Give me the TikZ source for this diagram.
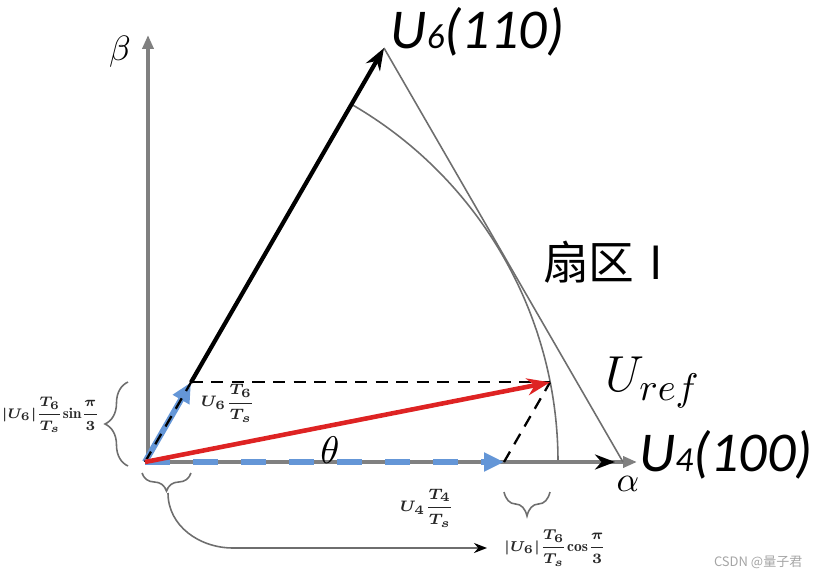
\documentclass[tikz,border=0pt]{standalone}
\usepackage{fontspec}
\usepackage{amsmath}
\newfontfamily\carlito{Carlito}
\newfontfamily\cjk{Noto Sans CJK SC}
\usetikzlibrary{positioning,calc,arrows.meta,decorations.pathreplacing}

\definecolor{axisgray}{RGB}{128,128,128}
\definecolor{linegray}{RGB}{110,110,110}
\definecolor{markgray}{RGB}{165,165,165}
\definecolor{compblue}{RGB}{100,150,215}
\definecolor{refred}{RGB}{222,35,35}

\newcommand*{\rHex}{4.78}
\newcommand*{\rIn}{4.13}
\newcommand*{\tSix}{0.92}
\newcommand*{\tFour}{3.59}
\newcommand*{\shrink}[2][0.72]{\scalebox{#1}{\boldmath#2}}

\tikzset{
  axis/.style={axisgray, line width=1.1pt, -{Triangle[length=1.4mm,width=1.1mm]}},
  thinline/.style={linegray, line width=0.45pt},
  blackvec/.style={black, line width=1.2pt, -{Stealth[length=2.2mm,width=1.6mm]}},
  bluevec/.style={compblue, line width=1.7pt, -{Triangle[length=2mm,width=1.8mm]}},
  redvec/.style={refred, line width=1.3pt, -{Stealth[length=2.3mm,width=1.7mm]}},
  dashline/.style={black, line width=0.65pt, dash pattern=on 1.2mm off 0.85mm},
  bracket/.style={linegray, line width=0.45pt, decorate, decoration={brace, amplitude=#1}},
  small/.style={font=\fontsize{6.5}{7}\selectfont, inner sep=1pt, text=black!85},
  big/.style={font=\carlito\itshape\fontsize{16}{16}\selectfont, inner sep=0pt}
}

\begin{document}
\begin{tikzpicture}[x=1cm,y=1cm]
  \useasboundingbox (-1.45,-1.15) rectangle (6.75,4.62);

  \coordinate (O) at (0,0);
  \foreach \ang/\nm in {0/U4,60/U6} {
    \coordinate (\nm) at (\ang:\rHex);
  }
  \coordinate (V6) at (60:\tSix);
  \coordinate (V4) at (\tFour,0);
  \coordinate (Uref) at ($(V6)+(V4)$);
  \coordinate (U4tip) at (4.70,0);
  \coordinate (ax) at (4.92,0);
  \coordinate (by) at (0.03,4.27);

  % axes
  \draw[axis] ([xshift=0.3mm]O) -- (by);
  \draw[axis] (O) -- (ax);

  % hexagon edge, inscribed circle
  \draw[thinline] (U6) -- (U4);
  \draw[thinline] (\rIn,0) arc[start angle=0, end angle=60, radius=\rIn];

  % basic vectors
  \draw[blackvec] (V6) -- (U6);
  \draw[axisgray, line width=1.1pt, -{Stealth[black,length=2mm,width=1.5mm]}] (V4) -- (U4tip);

  % components
  \draw[bluevec] (O) -- (V6);
  \draw[dashline] (O) -- (V6);
  \draw[bluevec, dash pattern=on 2.5mm off 2.3mm] (O) -- (V4);
  \draw[dashline] (V6) -- (Uref);
  \draw[dashline] (V4) -- (Uref);

  % reference vector
  \draw[redvec] (O) -- (Uref);

  % braces
  \draw[bracket=2.3mm] (-0.17,-0.04) -- (-0.17,0.80);
  \coordinate (bs) at (-0.40,0.38);
  \draw[bracket=1.8mm] ([yshift=-1.1mm]V6 |- O) -- ([shift={(-0.3mm,-1.1mm)}]O);
  \coordinate (bl) at ($(O)!0.5!(V6 |- O)+(0,-0.31)$);
  \draw[bracket=2.4mm] ([yshift=-3mm]Uref |- O) -- ([yshift=-3mm]V4);
  \coordinate (br) at ($(V4)!0.5!(Uref |- O)+(0,-0.56)$);

  % labels
  \node[big, anchor=base west] (lU6) at ([xshift=0.6mm]U6) {U{\fontsize{10}{10}\selectfont 6}(110)};
  \node[big, anchor=base west] (lU4) at ([shift={(0.15mm,-0.9mm)}]ax) {U{\fontsize{10}{10}\selectfont 4}(100)};
  \node (lal) at ([shift={(-0.09,-0.22)}]ax) {$\alpha$};
  \node (lbe) at ([shift={(-0.28,-0.17)}]by) {$\beta$};
  \node[font=\cjk\fontsize{13}{13}\selectfont] (sec) at (4.58,2.0) {扇区\,\,I};
  \node[anchor=base west, inner sep=0pt, font=\fontsize{15}{15}\selectfont] (lref) at ([shift={(0.55,-0.09)}]Uref) {$U_{ref}$};
  \node[font=\fontsize{11}{11}\selectfont] (lth) at (1.85,0.12) {$\theta$};

  \node[small] (l6) at ([shift={(0.37,-0.21)}]V6) {\shrink{$U_6\dfrac{T_6}{T_s}$}};
  \node[small] (l4) at ([shift={(-0.77,-0.46)}]V4) {\shrink{$U_4\dfrac{T_4}{T_s}$}};
  \node[small, anchor=east, inner sep=0pt] (sinL) at ([shift={(-0.05,0.09)}]bs) {\shrink[0.66]{$|U_6|\dfrac{T_6}{T_s}\!\sin\!\dfrac{\pi}{3}$}};
  \node[small, anchor=west] (cosL) at (3.55,-0.86) {\shrink[0.68]{$|U_6|\dfrac{T_6}{T_s}\!\cos\!\dfrac{\pi}{3}$}};

  \draw[linegray, line width=0.45pt, -{Stealth[black,length=1.3mm,width=1mm]}]
    (bl) to[out=-90,in=180] ($(bl |- cosL.west)+(0.65,0)$) -- ([xshift=-1.3mm]cosL.west);

  % watermark
  \node[font=\cjk\fontsize{3.7}{4}\selectfont, text=markgray, anchor=east, inner sep=0pt] (wm) at (6.58,-1.0) {CSDN @量子君};

  %\draw [very thin,gray,step=0.5] (-1.45,-1.15) grid (6.75,4.62);
\end{tikzpicture}
\end{document}
